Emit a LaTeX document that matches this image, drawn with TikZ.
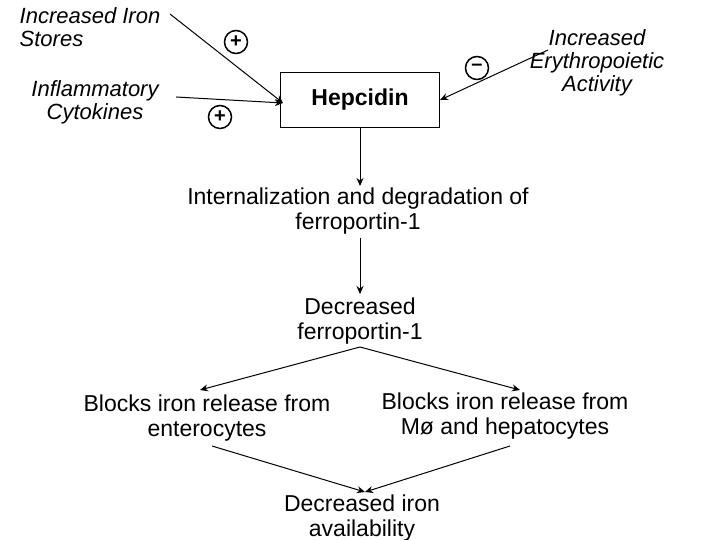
\documentclass[tikz,border=0pt]{standalone}
\usepackage{fontspec}
\setmainfont{Liberation Sans}
\usetikzlibrary{arrows.meta}
\begin{document}
\begin{tikzpicture}[x=1pt,y=-1pt,
  txt/.style={align=center,font=\fontsize{23}{25}\selectfont,inner sep=0pt},
  itx/.style={align=center,font=\fontsize{22}{23}\selectfont\itshape,inner sep=0pt},
  sgn/.style={circle,draw,line width=1.5pt,minimum size=23pt,inner sep=0pt,font=\bfseries\fontsize{20}{20}\selectfont},
  arr/.style={-{Stealth[length=8pt,width=7pt]},line width=1pt}]
\useasboundingbox (0,0) rectangle (720,540);
\node[draw,line width=1.2pt,minimum width=159pt,minimum height=55pt,font=\bfseries\fontsize{23}{26}\selectfont] (h) at (360,100) {Hepcidin};
\node[itx,align=left] (s) at (90,27) {Increased Iron\\Stores};
\node[itx] (c) at (95,102) {Inflammatory\\Cytokines};
\node[itx] (e) at (597,63) {Increased\\Erythropoietic\\Activity};
\node[sgn] (p1) at (236,42) {+};
\node[sgn] (p2) at (220,117) {+};
\node[sgn] (m1) at (477,68) {\raisebox{1pt}{--}};
\node[txt] (i) at (358,211) {Internalization and degradation of\\ferroportin-1};
\node[txt] (d) at (360,321) {Decreased\\ferroportin-1};
\node[txt] (l) at (207,418) {Blocks iron release from\\enterocytes};
\node[txt] (r) at (505,416) {Blocks iron release from\\M\o{} and hepatocytes};
\node[txt] (a) at (362,518) {Decreased iron\\availability};
\coordinate (s0) at (170,14);
\coordinate (c0) at (176,97);
\coordinate (e0) at (548,50);
\coordinate (hin) at (283,103);
\coordinate (hin2) at (440,100);
\draw[arr] (s0) -- (hin);
\draw[arr] (c0) -- (hin);
\draw[arr] (e0) -- (hin2);
\draw[arr] (h.south) -- (360,186);
\draw[arr] (360,238) -- (360,294);
\draw[arr] (360,347) -- (200,390);
\draw[arr] (360,347) -- (520,390);
\draw[arr] (212,446) -- (365,492);
\draw[arr] (510,446) -- (365,492);
\end{tikzpicture}
\end{document}
